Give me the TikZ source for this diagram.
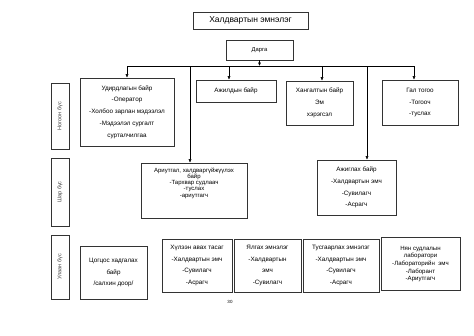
\documentclass[tikz,border=0pt]{standalone}
\usepackage{fontspec}
\setmainfont{Liberation Sans}
\usetikzlibrary{arrows.meta,shadows}
\begin{document}
\begin{tikzpicture}[x=1pt,y=-1pt,
  bx/.style={draw=black!80, line width=0.6pt, fill=white, inner sep=1pt, align=center,
    font=\fontsize{6.3}{11.7}\selectfont,
    drop shadow={shadow xshift=0.8pt, shadow yshift=-0.8pt, fill=black!60, opacity=1}},
  zone/.style={bx, rotate=90, minimum height=18, font=\fontsize{5.5}{6}\selectfont, text=black!75},
  arr/.style={-{Latex[length=3.5pt,width=3pt]}, line width=0.5pt},
  ln/.style={line width=0.5pt}]
\useasboundingbox (0,0) rectangle (474,335);
% title and head
\node[bx, minimum width=115, minimum height=17, font=\fontsize{8.5}{10}\selectfont] (title) at (250.5,20.5) {Халдвартын эмнэлэг};
\node[bx, minimum width=67, minimum height=20, font=\fontsize{5.8}{7}\selectfont] (darga) at (259.5,50) {Дарга};
% zone labels
\node[zone, minimum width=66] (z1) at (60,116) {Ногоон бүс};
\node[zone, minimum width=68] (z2) at (60,192) {Шар бүс};
\node[zone, minimum width=64] (z3) at (60,267) {Улаан бүс};
% row 1
\node[bx, minimum width=94, minimum height=68] (ud) at (127,112) {Удирдлагын байр\\-Оператор\\-Холбоо зарлан мэдээлэл\\-Мэдээлэл сургалт\\сурталчилгаа};
\node[bx, minimum width=80, minimum height=22] (ajil) at (236,91) {Ажилдын байр};
\node[bx, minimum width=67, minimum height=44] (hang) at (319.5,103) {Хангалтын байр\\Эм\\хэрэгсэл};
\node[bx, minimum width=76, minimum height=45] (gal) at (420,102.5) {Гал тогоо\\-Тогооч\\-туслах};
% row 2
\node[bx, minimum width=106, minimum height=55] (ariut) at (194,190.5) {};
\node[align=center, inner sep=0pt, font=\fontsize{6}{6.2}\selectfont] (ariutT) at (194,183) {Ариутгал, халдваргүйжүүлэх\\байр\\-Тархвар судлаач\\-туслах\\-ариутгагч};
\node[bx, minimum width=79, minimum height=55] (ajig) at (356.5,187.5) {Ажиглах байр\\-Халдвартын эмч\\-Сувилагч\\-Асрагч};
% row 3
\node[bx, minimum width=67, minimum height=53] (cog) at (113.5,272.5) {Цогцос хадгалах\\байр\\/салхин доор/};
\node[bx, minimum width=70, minimum height=53] (hul) at (197,265.5) {Хүлээн авах тасаг\\-Халдвартын эмч\\-Сувилагч\\-Асрагч};
\node[bx, minimum width=67, minimum height=53] (yal) at (267.5,265.5) {Ялгах эмнэлэг\\-Халдвартын\\эмч\\-Сувилагч};
\node[bx, minimum width=76, minimum height=53] (tus) at (341,265.5) {Тусгаарлах эмнэлэг\\-Халдвартын эмч\\-Сувилагч\\-Асрагч};
\node[bx, minimum width=79, minimum height=53, font=\fontsize{6.1}{7.7}\selectfont] (nyan) at (420.5,264) {Нян судлалын\\лаборатори\\-Лабораторийн\ \ эмч\\-Лаборант\\-Ариутгагч};
\node[font=\fontsize{4.5}{5}\selectfont, inner sep=0pt] (page) at (230,302) {30};
% connectors
\coordinate (bL) at (127,66);
\coordinate (bR) at (414,66);
\coordinate (b2) at (229,66);
\coordinate (b3) at (322,66);
\coordinate (b5) at (190,66);
\coordinate (b6) at (367,66);
\draw[ln] (bL) -- (bR);
\draw[arr] (darga.south) -- (darga.south |- bL);
\draw[arr] (bL) -- (bL |- ud.north);
\draw[arr] (b2) -- (b2 |- ajil.north);
\draw[arr] (b3) -- (b3 |- hang.north);
\draw[arr] (bR) -- (bR |- gal.north);
\draw[arr] (b5) -- (b5 |- ariut.north);
\draw[arr] (b6) -- (b6 |- ajig.north);
\end{tikzpicture}
\end{document}
